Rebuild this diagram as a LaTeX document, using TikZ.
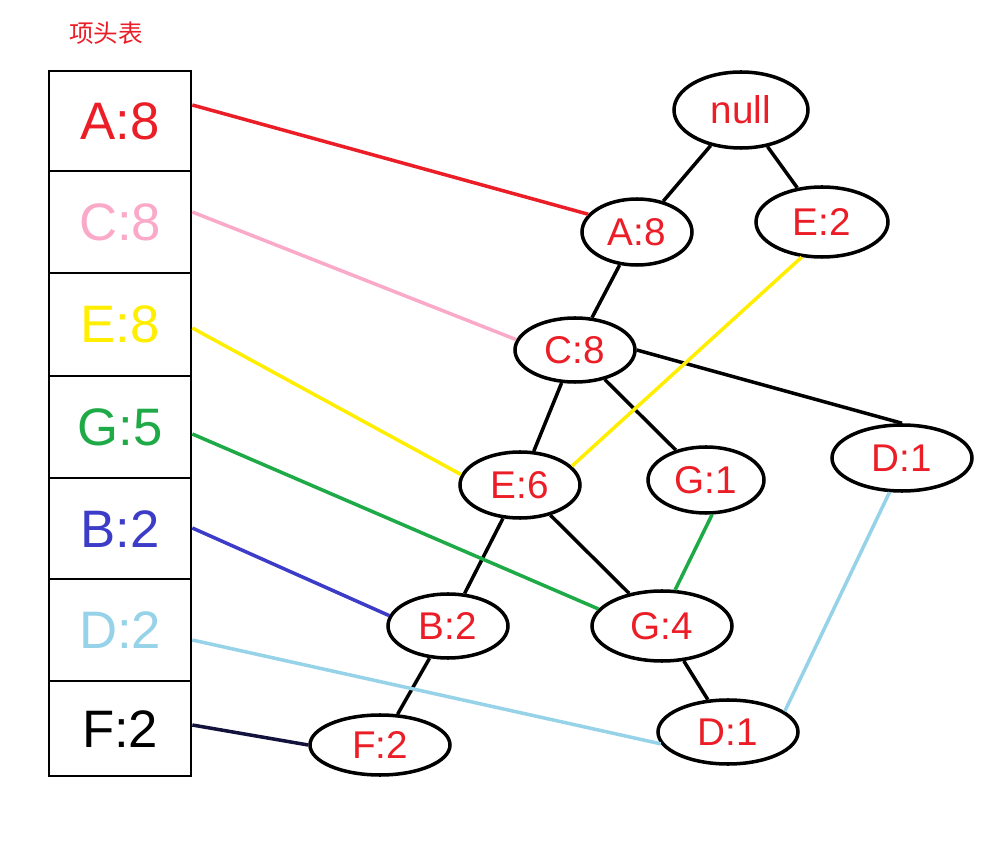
\documentclass[tikz,border=0pt]{standalone}
\usepackage{fontspec}
\setmainfont{Liberation Sans}
\newfontfamily\cjk{Noto Sans CJK SC}
\usetikzlibrary{shapes.geometric}
\definecolor{cred}{RGB}{235,30,40}
\definecolor{cpink}{RGB}{250,170,200}
\definecolor{cyel}{RGB}{255,238,0}
\definecolor{cgreen}{RGB}{30,170,70}
\definecolor{cblue}{RGB}{60,60,200}
\definecolor{clblue}{RGB}{150,210,232}
\begin{document}
\begin{tikzpicture}[x=0.03cm,y=-0.03cm,
  el/.style={draw,line width=3pt,ellipse,inner sep=0pt,text=cred,font=\fontsize{33}{35}\selectfont},
  cell/.style={draw,line width=2pt,minimum width=142*0.03cm,anchor=north west,font=\fontsize{45}{48}\selectfont},
  tree/.style={line width=3pt},
  lnk/.style={line width=3pt}]
\useasboundingbox (0,0) rectangle (996,852);
\node[text=cred,font=\cjk\fontsize{21}{23}\selectfont] (title) at (106,33) {项头表};
\node[cell,minimum height=100*0.03cm,text=cred] (tA) at (48,70) {A:8};
\node[cell,minimum height=102*0.03cm,text=cpink] (tC) at (48,170) {C:8};
\node[cell,minimum height=103*0.03cm,text=cyel] (tE) at (48,272) {E:8};
\node[cell,minimum height=102*0.03cm,text=cgreen] (tG) at (48,375) {G:5};
\node[cell,minimum height=101*0.03cm,text=cblue] (tB) at (48,477) {B:2};
\node[cell,minimum height=102*0.03cm,text=clblue] (tD) at (48,578) {D:2};
\node[cell,minimum height=95*0.03cm,text=black] (tF) at (48,680) {F:2};

\node[el,minimum width=134*0.03cm,minimum height=76*0.03cm] (nnull) at (741,110) {null};
\node[el,minimum width=110*0.03cm,minimum height=66*0.03cm] (nA) at (637,232) {A:8};
\node[el,minimum width=132*0.03cm,minimum height=70*0.03cm] (nE2) at (822,222) {E:2};
\node[el,minimum width=120*0.03cm,minimum height=64*0.03cm] (nC) at (575,350) {C:8};
\node[el,minimum width=120*0.03cm,minimum height=66*0.03cm] (nE6) at (520,485) {E:6};
\node[el,minimum width=116*0.03cm,minimum height=66*0.03cm] (nG1) at (706,480) {G:1};
\node[el,minimum width=140*0.03cm,minimum height=66*0.03cm] (nD1a) at (902,458) {D:1};
\node[el,minimum width=120*0.03cm,minimum height=64*0.03cm] (nB) at (448,626) {B:2};
\node[el,minimum width=140*0.03cm,minimum height=70*0.03cm] (nG4) at (662,626) {G:4};
\node[el,minimum width=140*0.03cm,minimum height=64*0.03cm] (nD1b) at (728,732) {D:1};
\node[el,minimum width=140*0.03cm,minimum height=60*0.03cm] (nF) at (380,745) {F:2};

\draw[tree] (nnull) -- (nA);
\draw[tree] (nnull) -- (nE2);
\draw[tree] (nA) -- (nC);
\draw[tree] (nC) -- (nE6);
\draw[tree] (nC) -- (nG1);
\draw[tree] (nC.east) -- (nD1a.north);
\draw[tree] (nE6) -- (nB);
\draw[tree] (nE6) -- (nG4);
\draw[tree] (nB) -- (nF);
\draw[tree] (nG4) -- (nD1b);

\draw[lnk,cred] (tA.north east)++(0,35) -- (nA.160);
\draw[lnk,cpink] (tC.north east)++(0,42) -- (nC.170);
\draw[lnk,cyel] (tE.north east)++(0,56) -- (nE6.170);
\draw[lnk,cgreen] (tG.north east)++(0,59) -- (nG4.165);
\draw[lnk,cblue] (tB.north east)++(0,51) -- (nB.170);
\draw[lnk,clblue] (tD.north east)++(0,62) -- (nD1b.190);
\draw[lnk,black!70!cblue] (tF.north east)++(0,45) -- (nF.180);
\draw[lnk,cyel] (nE2.240) -- (nE6.20);
\draw[lnk,cgreen] (nG1.280) -- (nG4.70);
\draw[lnk,clblue] (nD1a.250) -- (nD1b.20);
\end{tikzpicture}
\end{document}
